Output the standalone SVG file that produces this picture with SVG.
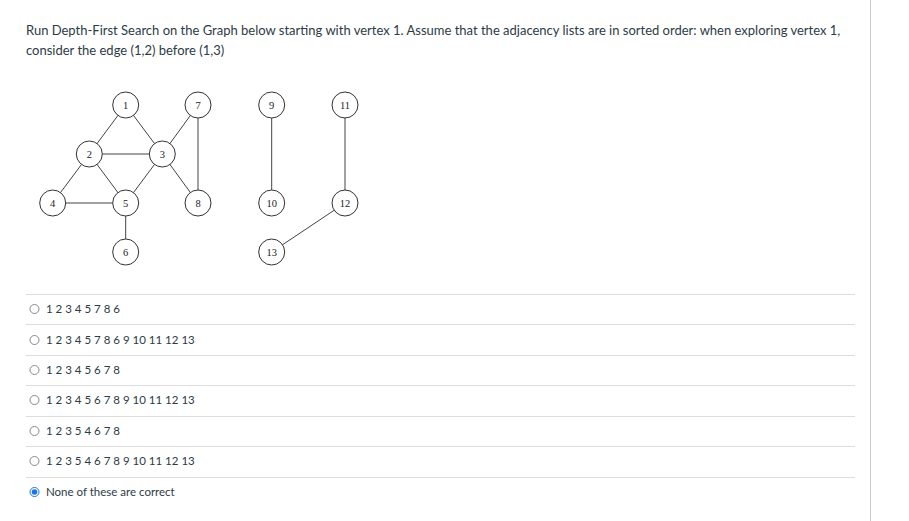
<svg xmlns="http://www.w3.org/2000/svg" width="909" height="521" viewBox="0 0 909 521">
<style>
.t{font-family:Lato,"Liberation Sans",sans-serif;font-size:13px;fill:#2d3b45}
.o{font-family:Lato,"Liberation Sans",sans-serif;font-size:11.5px;fill:#2d3b45}
.n circle{fill:#fff;stroke:#333;stroke-width:1}
.n text{font-family:"Liberation Serif",serif;font-size:10.5px;fill:#222;text-anchor:middle}
.e line{stroke:#444;stroke-width:1}
.sep{stroke:#ddd;stroke-width:1}
.r{fill:#fff;stroke:#888;stroke-width:1}
</style>
<rect width="909" height="521" fill="#fff"/>
<line x1="870.5" y1="0" x2="870.5" y2="521" stroke="#c7cdd1"/>
<text class="t" x="26" y="35">Run Depth-First Search on the Graph below starting with vertex 1. Assume that the adjacency lists are in sorted order: when exploring vertex 1,</text>
<text class="t" x="26" y="55">consider the edge (1,2) before (1,3)</text>
<g class="e" id="edges">
<line x1="125.7" y1="105" x2="89.3" y2="154"/>
<line x1="125.7" y1="105" x2="162.3" y2="154"/>
<line x1="89.3" y1="154" x2="162.3" y2="154"/>
<line x1="198" y1="105" x2="162.3" y2="154"/>
<line x1="198" y1="105" x2="198" y2="203"/>
<line x1="162.3" y1="154" x2="198" y2="203"/>
<line x1="89.3" y1="154" x2="52.7" y2="203"/>
<line x1="89.3" y1="154" x2="125.7" y2="203"/>
<line x1="162.3" y1="154" x2="125.7" y2="203"/>
<line x1="52.7" y1="203" x2="125.7" y2="203"/>
<line x1="125.7" y1="203" x2="125.7" y2="252"/>
<line x1="271.7" y1="105" x2="271.7" y2="203"/>
<line x1="345" y1="105" x2="345" y2="203"/>
<line x1="345" y1="203" x2="271.7" y2="252"/>
</g>
<g class="n" id="n1"><circle cx="125.7" cy="105" r="13"/><text x="125.7" y="109">1</text></g>
<g class="n" id="n7"><circle cx="198" cy="105" r="13"/><text x="198" y="109">7</text></g>
<g class="n" id="n9"><circle cx="271.7" cy="105" r="13"/><text x="271.7" y="109">9</text></g>
<g class="n" id="n11"><circle cx="345" cy="105" r="13"/><text x="345" y="109">11</text></g>
<g class="n" id="n2"><circle cx="89.3" cy="154" r="13"/><text x="89.3" y="158">2</text></g>
<g class="n" id="n3"><circle cx="162.3" cy="154" r="13"/><text x="162.3" y="158">3</text></g>
<g class="n" id="n4"><circle cx="52.7" cy="203" r="13"/><text x="52.7" y="207">4</text></g>
<g class="n" id="n5"><circle cx="125.7" cy="203" r="13"/><text x="125.7" y="207">5</text></g>
<g class="n" id="n8"><circle cx="198" cy="203" r="13"/><text x="198" y="207">8</text></g>
<g class="n" id="n10"><circle cx="271.7" cy="203" r="13"/><text x="271.7" y="207">10</text></g>
<g class="n" id="n12"><circle cx="345" cy="203" r="13"/><text x="345" y="207">12</text></g>
<g class="n" id="n6"><circle cx="125.7" cy="252" r="13"/><text x="125.7" y="256">6</text></g>
<g class="n" id="n13"><circle cx="271.7" cy="252" r="13"/><text x="271.7" y="256">13</text></g>
<g id="options">
<line class="sep" x1="26" y1="294.5" x2="855" y2="294.5"/>
<line class="sep" x1="26" y1="324.5" x2="855" y2="324.5"/>
<line class="sep" x1="26" y1="355.5" x2="855" y2="355.5"/>
<line class="sep" x1="26" y1="385.5" x2="855" y2="385.5"/>
<line class="sep" x1="26" y1="416.5" x2="855" y2="416.5"/>
<line class="sep" x1="26" y1="446.5" x2="855" y2="446.5"/>
<line class="sep" x1="26" y1="477.5" x2="855" y2="477.5"/>
<circle class="r" cx="34.5" cy="309" r="4.5"/><text class="o" x="46" y="313">1 2 3 4 5 7 8 6</text>
<circle class="r" cx="34.5" cy="340" r="4.5"/><text class="o" x="46" y="344">1 2 3 4 5 7 8 6 9 10 11 12 13</text>
<circle class="r" cx="34.5" cy="370" r="4.5"/><text class="o" x="46" y="374">1 2 3 4 5 6 7 8</text>
<circle class="r" cx="34.5" cy="400" r="4.5"/><text class="o" x="46" y="404">1 2 3 4 5 6 7 8 9 10 11 12 13</text>
<circle class="r" cx="34.5" cy="431" r="4.5"/><text class="o" x="46" y="435">1 2 3 5 4 6 7 8</text>
<circle class="r" cx="34.5" cy="461" r="4.5"/><text class="o" x="46" y="465">1 2 3 5 4 6 7 8 9 10 11 12 13</text>
<circle cx="34.5" cy="492" r="4.5" fill="#fff" stroke="#1a73e8"/><circle cx="34.5" cy="492" r="2.8" fill="#1a73e8"/>
<text class="o" x="46" y="496">None of these are correct</text>
</g>
</svg>
